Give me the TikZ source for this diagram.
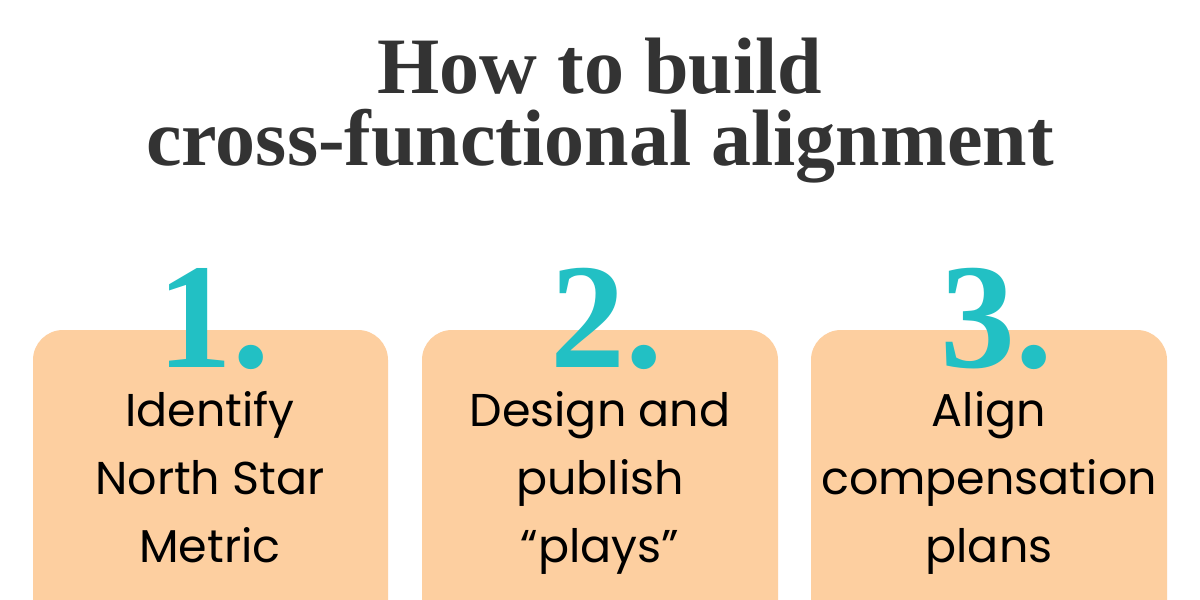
\documentclass[tikz,border=0pt]{standalone}
\usepackage{fontspec}
\setmainfont{Liberation Serif}
\newfontfamily\boxfont{Poppins}
\definecolor{peach}{HTML}{FDCFA0}
\definecolor{teal1}{HTML}{22C0C4}
\definecolor{ink}{HTML}{333333}
\begin{document}
\begin{tikzpicture}[x=1pt,y=-1pt,
  card/.style={fill=peach,rounded corners=30pt},
  ttl/.style={text=ink,font=\fontsize{80}{70}\selectfont\bfseries,anchor=base,inner sep=0pt},
  num/.style={text=teal1,font=\fontsize{150}{150}\selectfont\bfseries,anchor=base,inner sep=0pt},
  label/.style={text=black,font=\boxfont\fontsize{46}{68}\selectfont,align=center,anchor=north}]
\useasboundingbox[fill=white] (0,0) rectangle (1200,600);
\begin{scope}
\clip (0,0) rectangle (1200,600);
\fill[card] (33,330) rectangle (388,660);
\fill[card] (422,330) rectangle (778,660);
\fill[card] (811,330) rectangle (1167,660);
\end{scope}
\node[ttl] (t1) at (600,93) {How to build};
\node[ttl] (t2) at (600,165) {cross-functional alignment};
\node[num] (n1) at (214,367) {1.};
\node[num] (n2) at (607,367) {2.};
\node[num] (n3) at (997,367) {3.};
\node[label] (l1) at (210,388) {Identify\\North Star\\Metric};
\node[label] (l2) at (600,388) {Design and\\publish\\“plays”};
\node[label] (l3) at (989,388) {Align\\compensation\\plans};
\end{tikzpicture}
\end{document}
